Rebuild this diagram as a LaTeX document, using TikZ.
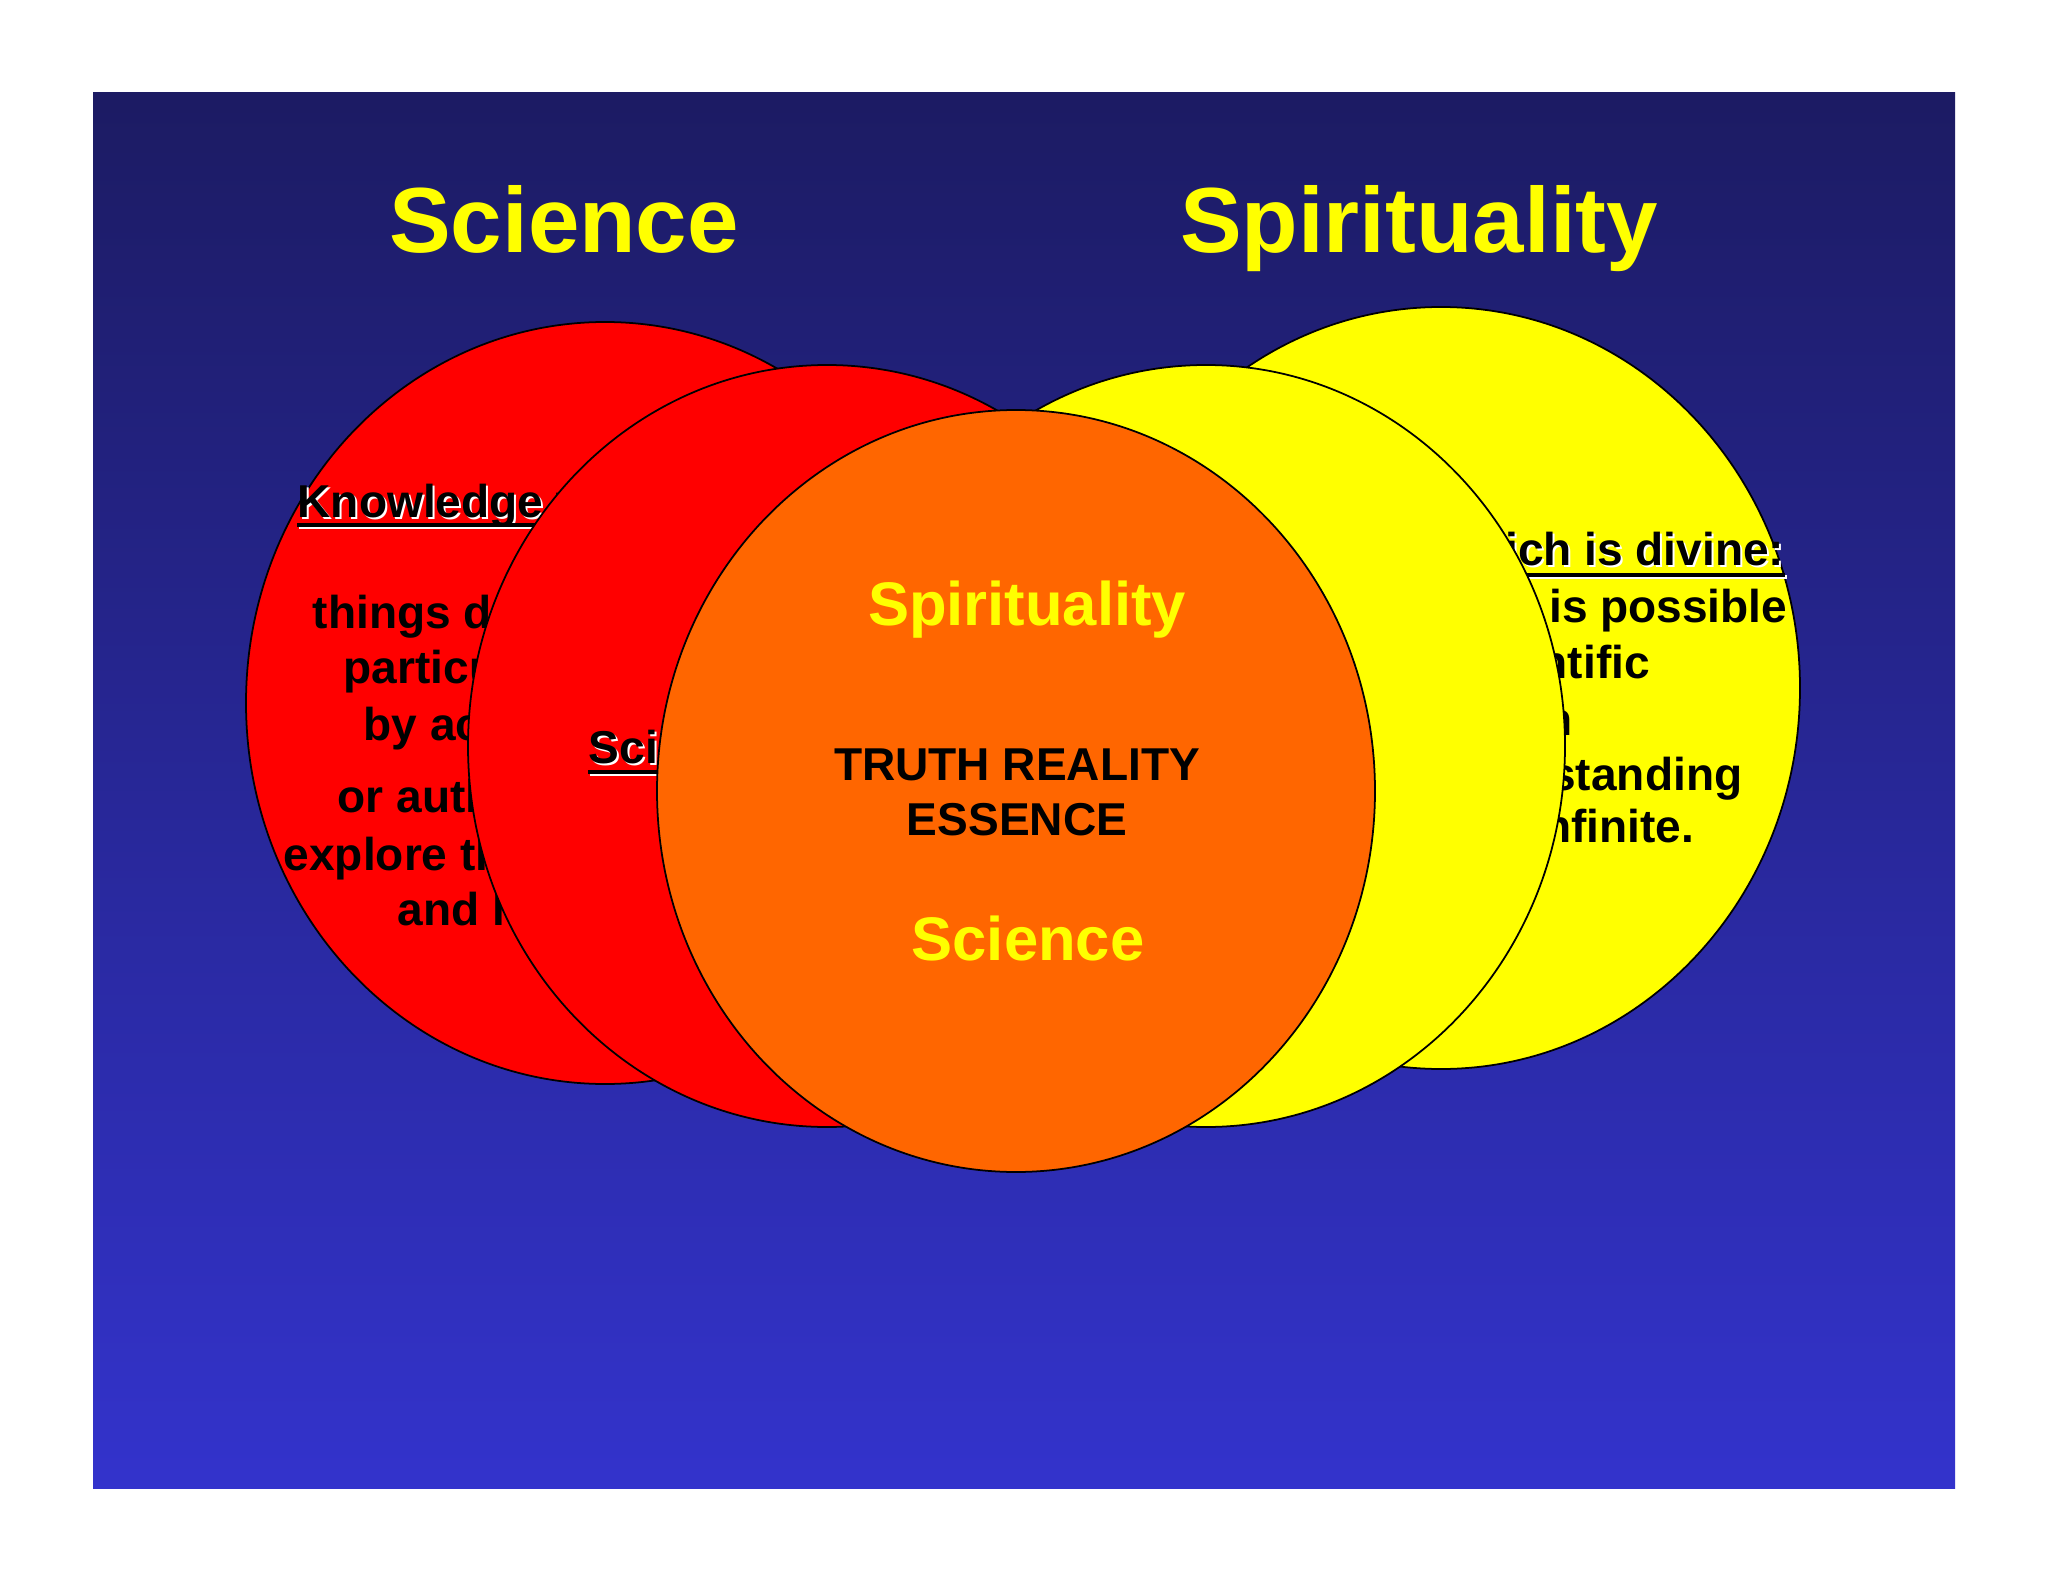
\documentclass[tikz,border=0pt]{standalone}
\usepackage{fontspec}
\setmainfont{Liberation Sans}
\usetikzlibrary{math}
\definecolor{bgtop}{RGB}{28,27,99}
\definecolor{bgbot}{RGB}{51,51,204}
\definecolor{myred}{RGB}{255,0,0}
\definecolor{myyellow}{RGB}{255,255,0}
\definecolor{myorange}{RGB}{255,102,0}

\tikzset{
  disc/.style={draw=black, line width=0.5pt},
  body/.style={inner sep=0, font=\fontsize{13.1}{15}\selectfont\bfseries},
  head/.style={inner sep=0, text=myyellow, font=\fontsize{26.3}{30}\selectfont\bfseries},
  inner/.style={inner sep=0, text=myyellow, font=\fontsize{17.5}{20}\selectfont\bfseries},
  shadow/.style={body, text=white},
}

\begin{document}
\begin{tikzpicture}[x=0.01cm,y=-0.01cm]
\tikzmath{
\rx=359; \ry=381; \sh=2;
}

\useasboundingbox[fill=white] (0,0) rectangle (2048,1582);
\shade[top color=bgtop, bottom color=bgbot] (93,93) rectangle (1955,1488);

\node[head, anchor=base] (ttlsci) at (564,253) {Science};
\node[head, anchor=base] (ttlspi) at (1419,253) {Spirituality};

% back discs
\fill[myred, disc] (605,703) ellipse [x radius=\rx, y radius=\ry];
\fill[myyellow, disc] (1441,688) ellipse [x radius=\rx, y radius=\ry];

% text of the science disc
\node[shadow, anchor=base west] (knwsh) at (297+\sh,517+\sh) {Knowledge w};
\node[body, anchor=base west] (knw) at (297,517) {Knowledge w};
\draw[white, line width=0.9pt] (297+\sh,525+\sh) -- (600,525+\sh);
\draw[black, line width=0.9pt] (297,525) -- (600,525);
\node[body, anchor=base west] (sl1) at (312,628) {things d};
\node[body, anchor=base west] (sl2) at (343,683) {particu};
\node[body, anchor=base west] (sl3) at (363,740) {by ac};
\node[body, anchor=base west] (sl4) at (337,812) {or auth};
\node[body, anchor=base west] (sl5) at (283,870) {explore th};
\node[body, anchor=base west] (sl6) at (397,925) {and h};

% text of the spirituality disc
\node[shadow, anchor=base east] (divsh) at (1785+\sh,565+\sh) {which is divine:};
\node[body, anchor=base east] (div) at (1785,565) {which is divine:};
\draw[white, line width=0.9pt] (1450,575+\sh) -- (1785+\sh,575+\sh);
\draw[black, line width=0.9pt] (1450,575) -- (1785,575);
\node[body, anchor=base east] (pl1) at (1788,622) {is possible};
\node[body, anchor=base west] (pl2) at (1539,678) {ntific};
\node[body, anchor=base east] (pl3) at (1573,735) {n};
\node[body, anchor=base east] (pl4) at (1743,790) {standing};
\node[body, anchor=base east] (pl5) at (1695,842) {nfinite.};

% middle discs
\fill[myred, disc] (827,746) ellipse [x radius=\rx, y radius=\ry];
\fill[myyellow, disc] (1206,746) ellipse [x radius=\rx, y radius=\ry];

\node[shadow, anchor=base west] (scish) at (588+\sh,763+\sh) {Sci};
\node[body, anchor=base west] (sci) at (588,763) {Sci};
\draw[white, line width=0.9pt] (588+\sh,772+\sh) -- (680,772+\sh);
\draw[black, line width=0.9pt] (588,772) -- (680,772);

% front disc
\fill[myorange, disc] (1016,791) ellipse [x radius=\rx, y radius=\ry];

\node[inner, anchor=base] (spi) at (1027,625) {Spirituality};
\node[body, anchor=base] (tru) at (1017,780) {TRUTH REALITY};
\node[body, anchor=base] (ess) at (1017,835) {ESSENCE};
\node[inner, anchor=base] (sce) at (1028,960) {Science};
\end{tikzpicture}
\end{document}
